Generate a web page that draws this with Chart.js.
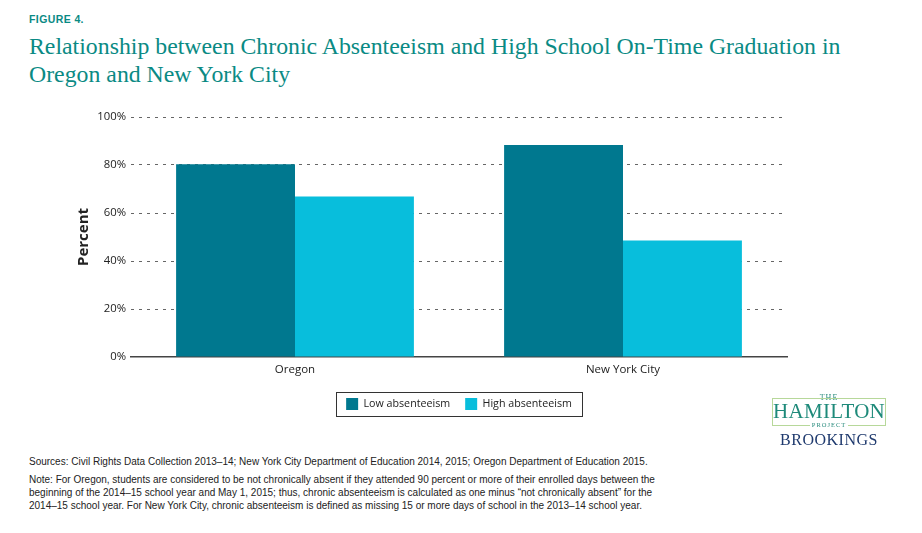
<!DOCTYPE html>
<html><head><meta charset="utf-8">
<script src="https://cdn.jsdelivr.net/npm/chart.js@4.4.1/dist/chart.umd.min.js"></script>
<style>
html,body{margin:0;padding:0;background:#fff;width:922px;height:533px;overflow:hidden;position:relative;font-family:"Liberation Sans",Arial,sans-serif;}
#fig{position:absolute;left:29px;top:13px;font:bold 10.5px "Liberation Sans",Arial,sans-serif;color:#0a8a84;letter-spacing:0.4px;}
#title{position:absolute;left:29px;top:32px;font:23.8px "Liberation Serif","Times New Roman",serif;color:#0a8a84;line-height:28px;white-space:nowrap;}
#wrap{position:absolute;left:0;top:100px;width:922px;height:340px;}
#notes{position:absolute;left:29px;top:455px;font:10px "Liberation Sans",Arial,sans-serif;color:#222;line-height:13px;white-space:nowrap;}
#notes p{margin:0;}
#notes p.s{margin-bottom:5px;}
#logo{position:absolute;left:772px;top:393px;width:114px;text-align:center;font-family:"Liberation Serif",serif;}
#logo .the{font-size:8px;color:#2a8c7e;letter-spacing:1px;line-height:9px;}
#logo .box{border:1px solid #b7d89a;height:26px;margin-top:-4px;position:relative;}
#logo .ham{font-size:21px;color:#1e8a7a;letter-spacing:0.3px;line-height:25px;}
#logo .proj{font-size:6.5px;color:#2a8c7e;letter-spacing:1px;position:absolute;left:0;right:0;bottom:-4px;line-height:8px;}
#logo .proj span{background:#fff;padding:0 2px;}
#logo .brk{font-size:16px;color:#1f3a6e;letter-spacing:0.5px;margin-top:5px;}
</style></head>
<body>
<div id="fig">FIGURE 4.</div>
<div id="title">Relationship between Chronic Absenteeism and High School On-Time Graduation in<br>Oregon and New York City</div>
<div id="wrap"><canvas id="c" width="922" height="340"></canvas></div>
<div id="logo"><div class="the">THE</div><div class="box"><div class="ham">HAMILTON</div><div class="proj"><span>PROJECT</span></div></div><div class="brk">BROOKINGS</div></div>
<div id="notes">
<p class="s">Sources: Civil Rights Data Collection 2013–14; New York City Department of Education 2014, 2015; Oregon Department of Education 2015.</p>
<p>Note: For Oregon, students are considered to be not chronically absent if they attended 90 percent or more of their enrolled days between the</p>
<p>beginning of the 2014–15 school year and May 1, 2015; thus, chronic absenteeism is calculated as one minus “not chronically absent” for the</p>
<p>2014–15 school year. For New York City, chronic absenteeism is defined as missing 15 or more days of school in the 2013–14 school year.</p>
</div>
<script>
const categories = ["Oregon", "New York City"];
const lowAbsenteeism = [80.3, 88.3];
const highAbsenteeism = [66.9, 48.5];
const yTicks = [0, 20, 40, 60, 80, 100];

const legendBorder = {
  id: 'legendBorder',
  afterDraw(chart) {
    const lg = chart.legend;
    if (!lg || !lg.legendHitBoxes || !lg.legendHitBoxes.length) return;
    const hb = lg.legendHitBoxes;
    let l = Infinity, r = -Infinity, t = Infinity, b = -Infinity;
    hb.forEach(h => { l = Math.min(l, h.left); r = Math.max(r, h.left + h.width); t = Math.min(t, h.top); b = Math.max(b, h.top + h.height); });
    const ctx = chart.ctx;
    ctx.save();
    ctx.strokeStyle = '#333';
    ctx.lineWidth = 1;
    ctx.strokeRect(Math.round(l - 10) + 0.5, Math.round(t - 6) + 0.5, Math.round(r - l + 20), Math.round(b - t + 12));
    ctx.restore();
  }
};

new Chart(document.getElementById('c'), {
  type: 'bar',
  data: {
    labels: categories,
    datasets: [
      { label: 'Low absenteeism', data: lowAbsenteeism, backgroundColor: '#00788F', borderWidth: 0 },
      { label: 'High absenteeism', data: highAbsenteeism, backgroundColor: '#08BEDC', borderWidth: 0 }
    ]
  },
  options: {
    responsive: false,
    animation: false,
    layout: { padding: { left: 75, right: 135, top: 17, bottom: 20 } },
    datasets: { bar: { categoryPercentage: 0.725, barPercentage: 1.0 } },
    plugins: {
      legend: {
        position: 'bottom',
        fullSize: false,
        labels: { boxWidth: 12, boxHeight: 12, padding: 15, color: '#222', font: { family: 'Open Sans', size: 10.7 } }
      },
      tooltip: { enabled: false },
      title: { display: false }
    },
    scales: {
      x: {
        grid: { display: false, drawTicks: false },
        border: { display: true, color: '#444', width: 1.5 },
        ticks: { color: '#222', padding: 6, font: { family: 'Open Sans', size: 11.5 } },
        afterFit(s) { s.height = 26; }
      },
      y: {
        min: 0, max: 100,
        afterBuildTicks(s) { s.ticks = yTicks.map(v => ({ value: v })); },
        grid: {
          drawTicks: false,
          color: ctx => (ctx.tick && ctx.tick.value === 0) ? 'rgba(0,0,0,0)' : '#666',
          lineWidth: 1
        },
        border: { display: false, dash: [3, 5] },
        ticks: { color: '#222', padding: 5, font: { family: 'Open Sans', size: 11.3 }, callback: v => v + '%' },
        title: { display: true, text: 'Percent', color: '#222', font: { family: 'Open Sans', size: 15, weight: 'bold' }, padding: { top: 0, bottom: 0 } },
        afterFit(s) { s.width = 56; }
      }
    }
  },
  plugins: [legendBorder]
});
</script>
</body></html>
